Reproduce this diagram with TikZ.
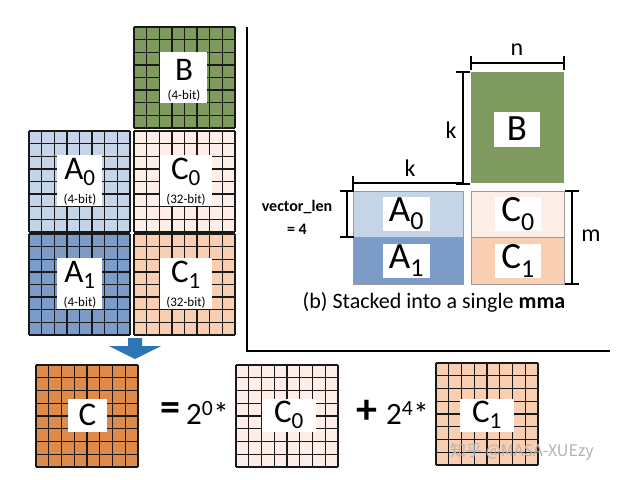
\documentclass[tikz,border=0pt]{standalone}
\usepackage{fontspec}
\setmainfont{Carlito}
\newfontfamily\cjk{Noto Sans CJK SC}
\definecolor{cB}{HTML}{7F9A5E}
\definecolor{cA0}{HTML}{C6D4E7}
\definecolor{cA1}{HTML}{7C9BC6}
\definecolor{cC0}{HTML}{FDEFE8}
\definecolor{cC1}{HTML}{F9CFB3}
\definecolor{cC}{HTML}{DE8A4B}
\definecolor{cArr}{HTML}{2E75B6}
\newcommand\mygrid[4]{%
  \fill[#4] (#1,#2) rectangle ++(#3,#3);
  \foreach \i in {0,...,8}{%
    \draw[gridline] ({#1+\i*#3/8},#2) -- ++(0,#3);
    \draw[gridline] (#1,{#2+\i*#3/8}) -- ++(#3,0);}}
\tikzset{gridline/.style={line width=1.3pt,draw=black!90},
  wbox/.style={fill=white},
  big/.style={font=\fontsize{33}{33}\selectfont, inner sep=0pt},
  bigr/.style={font=\fontsize{37}{37}\selectfont, inner sep=0pt},
  small/.style={font=\fontsize{13}{13}\selectfont, inner sep=0pt},
  dim/.style={line width=1.3pt},
  lbl/.style={font=\fontsize{24}{24}\selectfont, inner sep=0pt},
  frame/.style={line width=2.6pt}}
\begin{document}
\begin{tikzpicture}[x=1pt,y=-1pt]
\useasboundingbox[fill=white] (0,0) rectangle (617,479);
% left grids
\mygrid{134}{27}{101}{cB}
\mygrid{29}{131}{101}{cA0}
\mygrid{134}{131}{101}{cC0}
\mygrid{29}{234}{101}{cA1}
\mygrid{134}{234}{101}{cC1}
\fill[wbox] (160,52) rectangle (207,103);
\node[big] (lB) at (184,70) {B};
\node[small] (lBb) at (184,96) {(4-bit)};
\fill[wbox] (57,155) rectangle (102,206);
\node[big] (lA0) at (80,172) {A\textsubscript{0}};
\node[small] (lA0b) at (80,200) {(4-bit)};
\fill[wbox] (160,155) rectangle (212,206);
\node[big] (lC0) at (186,172) {C\textsubscript{0}};
\node[small] (lC0b) at (186,200) {(32-bit)};
\fill[wbox] (57,258) rectangle (102,309);
\node[big] (lA1) at (80,275) {A\textsubscript{1}};
\node[small] (lA1b) at (80,303) {(4-bit)};
\fill[wbox] (160,258) rectangle (212,309);
\node[big] (lC1) at (186,275) {C\textsubscript{1}};
\node[small] (lC1b) at (186,303) {(32-bit)};
% arrow
\fill[cArr] (128,338) -- (142,338) -- (142,346) -- (161,346) -- (135,359) -- (109,346) -- (128,346) -- cycle;
% bottom row
\mygrid{36}{365}{102}{cC}
\fill[wbox] (68,399) rectangle (107,432);
\node[big] (bC) at (87.5,415) {C};
\node[font=\bfseries\fontsize{40}{40}\selectfont, inner sep=0pt] (eq) at (170,412) {=};
\node[font=\fontsize{31}{31}\selectfont, inner sep=0pt, anchor=west] (t0) at (186,413) {2\textsuperscript{0}*};
\mygrid{236}{365}{102}{cC0}
\fill[wbox] (262,399) rectangle (316,432);
\node[big] (bC0) at (289,415) {C\textsubscript{0}};
\node[font=\bfseries\fontsize{42}{42}\selectfont, inner sep=0pt] (pl) at (367,412) {+};
\node[font=\fontsize{31}{31}\selectfont, inner sep=0pt, anchor=west] (t4) at (386,413) {2\textsuperscript{4}*};
\mygrid{436}{363}{102}{cC1}
\fill[wbox] (460,399) rectangle (514,432);
\node[big] (bC1) at (487,415) {C\textsubscript{1}};
\node[font=\cjk\fontsize{16}{16}\selectfont, text=black!30, inner sep=0pt] (wm) at (522,452) {知乎 @MASA-XUEzy};
% frame
\draw[frame] (247,27) -- (247,351) -- (610,351);
% right panel
\fill[cB] (471,72) rectangle (564,183);
\fill[wbox] (494,112) rectangle (540,147);
\node[bigr] (rB) at (517,129) {B};
\draw[black!40,fill=cA0] (353,191) rectangle (463,237);
\draw[black!40,fill=cA1] (353,237) rectangle (463,284);
\draw[black!40,fill=cC0] (471,191) rectangle (564,237);
\draw[black!40,fill=cC1] (471,237) rectangle (564,284);
\fill[wbox] (383,197) rectangle (430,231);
\node[bigr] (rA0) at (406.5,214) {A\textsubscript{0}};
\fill[wbox] (383,244) rectangle (430,278);
\node[bigr] (rA1) at (406.5,261) {A\textsubscript{1}};
\fill[wbox] (495,197) rectangle (541,231);
\node[bigr] (rC0) at (518,214) {C\textsubscript{0}};
\fill[wbox] (495,244) rectangle (541,278);
\node[bigr] (rC1) at (518,261) {C\textsubscript{1}};
% dimensions
\draw[dim] (471,63) -- (564,63); \draw[dim] (471,56) -- (471,70); \draw[dim] (564,56) -- (564,70);
\node[lbl] (n) at (517,50) {n};
\draw[dim] (463,72) -- (463,184); \draw[dim] (456,72) -- (470,72); \draw[dim] (456,184) -- (470,184);
\node[lbl] (k1) at (451,130) {k};
\draw[dim] (353,183) -- (463,183); \draw[dim] (353,176) -- (353,190);
\node[lbl] (k2) at (410,168) {k};
\draw[dim] (347,191) -- (347,237); \draw[dim] (340,191) -- (354,191); \draw[dim] (340,237) -- (354,237);
\node[font=\bfseries\fontsize{16}{16}\selectfont, inner sep=0pt] (vl) at (297,207) {vector\_len};
\node[font=\bfseries\fontsize{16}{16}\selectfont, inner sep=0pt] (v4) at (297,229) {= 4};
\draw[dim] (572,191) -- (572,284); \draw[dim] (565,191) -- (579,191); \draw[dim] (565,284) -- (579,284);
\node[lbl] (m) at (591,236) {m};
\node[font=\fontsize{22}{22}\selectfont, inner sep=0pt] (cap) at (434,302) {(b) Stacked into a single \textbf{mma}};
\end{tikzpicture}
\end{document}
